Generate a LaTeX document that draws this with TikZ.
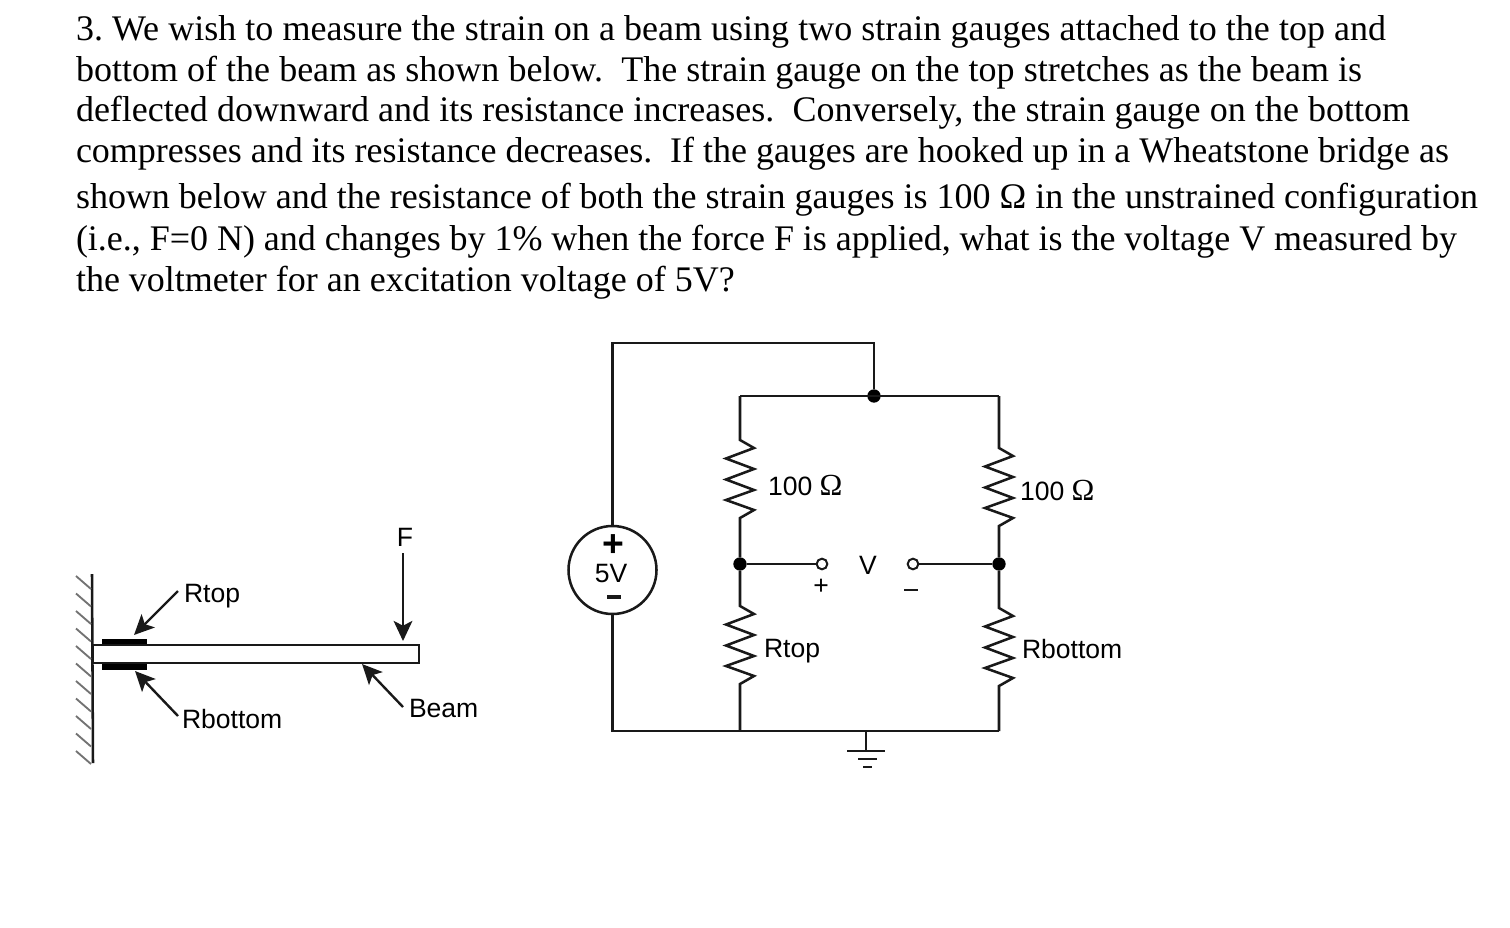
\documentclass[tikz,border=0pt]{standalone}
\usepackage{fontspec}
\setmainfont{Liberation Serif}
\setsansfont{Liberation Sans}
\usetikzlibrary{arrows.meta}
\newcommand{\bodyfont}{\rmfamily\fontsize{27}{30}\selectfont\frenchspacing}
\newcommand{\lab}{\sffamily\fontsize{19.9}{24}\selectfont}
\newcommand{\ohm}{{\rmfamily\fontsize{23}{24}\selectfont Ω}}
\tikzset{
  wire/.style={line width=1.9pt,line join=miter,black!90},
  callout/.style={line width=1.8pt,black!90,-{Stealth[length=15pt,width=14pt,inset=3.5pt]}},
  bodyline/.style={anchor=base west,inner sep=0pt,outer sep=0pt,font=\bodyfont},
  lbl/.style={anchor=base west,inner sep=0pt,outer sep=0pt,font=\lab},
  dotnode/.style={circle,fill=black,draw=none,minimum size=10pt,inner sep=0pt},
  opennode/.style={circle,fill=white,draw=black!90,line width=1.5pt,minimum size=8pt,inner sep=0pt},
  zig/.style={wire,to path={-- ++(0,#1) -- ++(14,8) -- ++(-28,10.5) -- ++(28,10.5) -- ++(-28,10.5) -- ++(28,10.5) -- ++(-28,10) -- ++(28,10) -- ++(-14,8) -- (\tikztotarget)}}
}
\begin{document}
\begin{tikzpicture}[x=0.75pt,y=-0.75pt]
\useasboundingbox (0,0) rectangle (1510,928);
% question text
\node[bodyline] (l1) at (76,40.5) {\makebox[982.5pt][s]{3. We wish to measure the strain on a beam using two strain gauges attached to the top and}};
\node[bodyline] (l2) at (76,81.5) {\makebox[964.5pt][s]{bottom of the beam as shown below.\ \ The strain gauge on the top stretches as the beam is}};
\node[bodyline] (l3) at (76,121.5) {\makebox[1000.5pt][s]{deflected downward and its resistance increases.\ \ Conversely, the strain gauge on the bottom}};
\node[bodyline] (l4) at (76,162.5) {\makebox[1029.7pt][s]{compresses and its resistance decreases.\ \ If the gauges are hooked up in a Wheatstone bridge as}};
\node[bodyline] (l5) at (76,208.5) {\makebox[1051.5pt][s]{shown below and the resistance of both the strain gauges is 100 Ω in the unstrained configuration}};
\node[bodyline] (l6) at (76,250.5) {\makebox[1035.7pt][s]{(i.e., F=0 N) and changes by 1\% when the force F is applied, what is the voltage V measured by}};
\node[bodyline] (l7) at (76,291.5) {\makebox[494pt][s]{the voltmeter for an excitation voltage of 5V?}};
% wall and hatching
\draw[wire] (92,574) -- (93,763);
\foreach \yy in {576,593.5,611,628.5,646,663.5,681,698.5,716,733.5,751}
  \draw[line width=1.4pt,black!55] (76,\yy) -- (91,\yy+13);
% gauges
\fill[black] (102,639) rectangle (147,645);
\fill[black] (102,663) rectangle (147,669.5);
% beam
\node[draw=black!90,line width=1.8pt,fill=white,minimum width=244.5pt,minimum height=13.6pt,inner sep=0pt,anchor=north west] (beam) at (91.5,643.5) {};
% beam labels
\node[lbl] (ltop) at (184,602) {Rtop};
\node[lbl] (lbot) at (182,728) {Rbottom};
\node[lbl] (lbeam) at (409,717) {Beam};
\node[lbl,anchor=base] (lf) at (405,546) {F};
\coordinate (ttip) at (134,635);
\coordinate (btip) at (135,671);
\coordinate (beamtip) at (362,664);
\coordinate (ftip) at (403,641);
\coordinate (ttail) at (178,591);
\coordinate (btail) at (178,716);
\coordinate (beamtail) at (403,707);
\coordinate (ftail) at (403,553);
\draw[callout] (ttail) -- (ttip);
\draw[callout] (btail) -- (btip);
\draw[callout] (beamtail) -- (beamtip);
\draw[callout] (ftail) -- (ftip);
% circuit
\node[circle,draw=black!90,line width=1.9pt,minimum size=66pt,inner sep=0pt] (src) at (612.5,570) {};
\node[font=\sffamily\bfseries\fontsize{28}{30}\selectfont,inner sep=0pt] (plus) at (613,546) {+};
\node[lbl,anchor=center] (fivev) at (611,573) {5V};
\node[fill=black!90,minimum width=10pt,minimum height=3.2pt,inner sep=0pt] (minus) at (614,597) {};
\coordinate (tl) at (612.5,343);
\coordinate (tr) at (874,343);
\node[dotnode] (topdot) at (874,396) {};
\coordinate (rl) at (740,396);
\coordinate (rr) at (999,396);
\node[dotnode] (midl) at (740,564) {};
\node[dotnode] (midr) at (999,564) {};
\coordinate (bl) at (740,731);
\coordinate (br) at (999,731);
\coordinate (sb) at (612.5,731);
\node[opennode] (op) at (822,564) {};
\node[opennode] (om) at (913,564) {};
\coordinate (gtop) at (866,731);
\coordinate (gnd) at (866,751);
\draw[wire] (src.north) -- (tl) -- (tr) -- (topdot);
\draw[wire] (rl) -- (rr);
\draw[wire] (src.south) -- (sb) -- (br);
\draw[zig=44] (rl) to (midl);
\draw[zig=52] (rr) to (midr);
\draw[zig=42] (midl) to (bl);
\draw[zig=44] (midr) to (br);
\draw[wire] (midl) -- (op);
\draw[wire] (om) -- (midr);
\draw[wire] (gtop) -- (gnd);
\draw[wire] (847,751) -- (885,751);
\draw[wire] (858,759) -- (877,759);
\draw[wire] (863,767) -- (872,767);
% circuit labels
\node[lbl] (v1) at (768,495) {100 \ohm};
\node[lbl] (v2) at (1020,500) {100 \ohm};
\node[lbl] (v3) at (764,657) {Rtop};
\node[lbl] (v4) at (1022,658) {Rbottom};
\node[lbl,anchor=center] (vv) at (868,565) {V};
\node[lbl,anchor=center] (vp) at (821,587) {+};
\node[fill=black!90,minimum width=11pt,minimum height=1.4pt,inner sep=0pt] (vm) at (911,590) {};
\end{tikzpicture}
\end{document}
